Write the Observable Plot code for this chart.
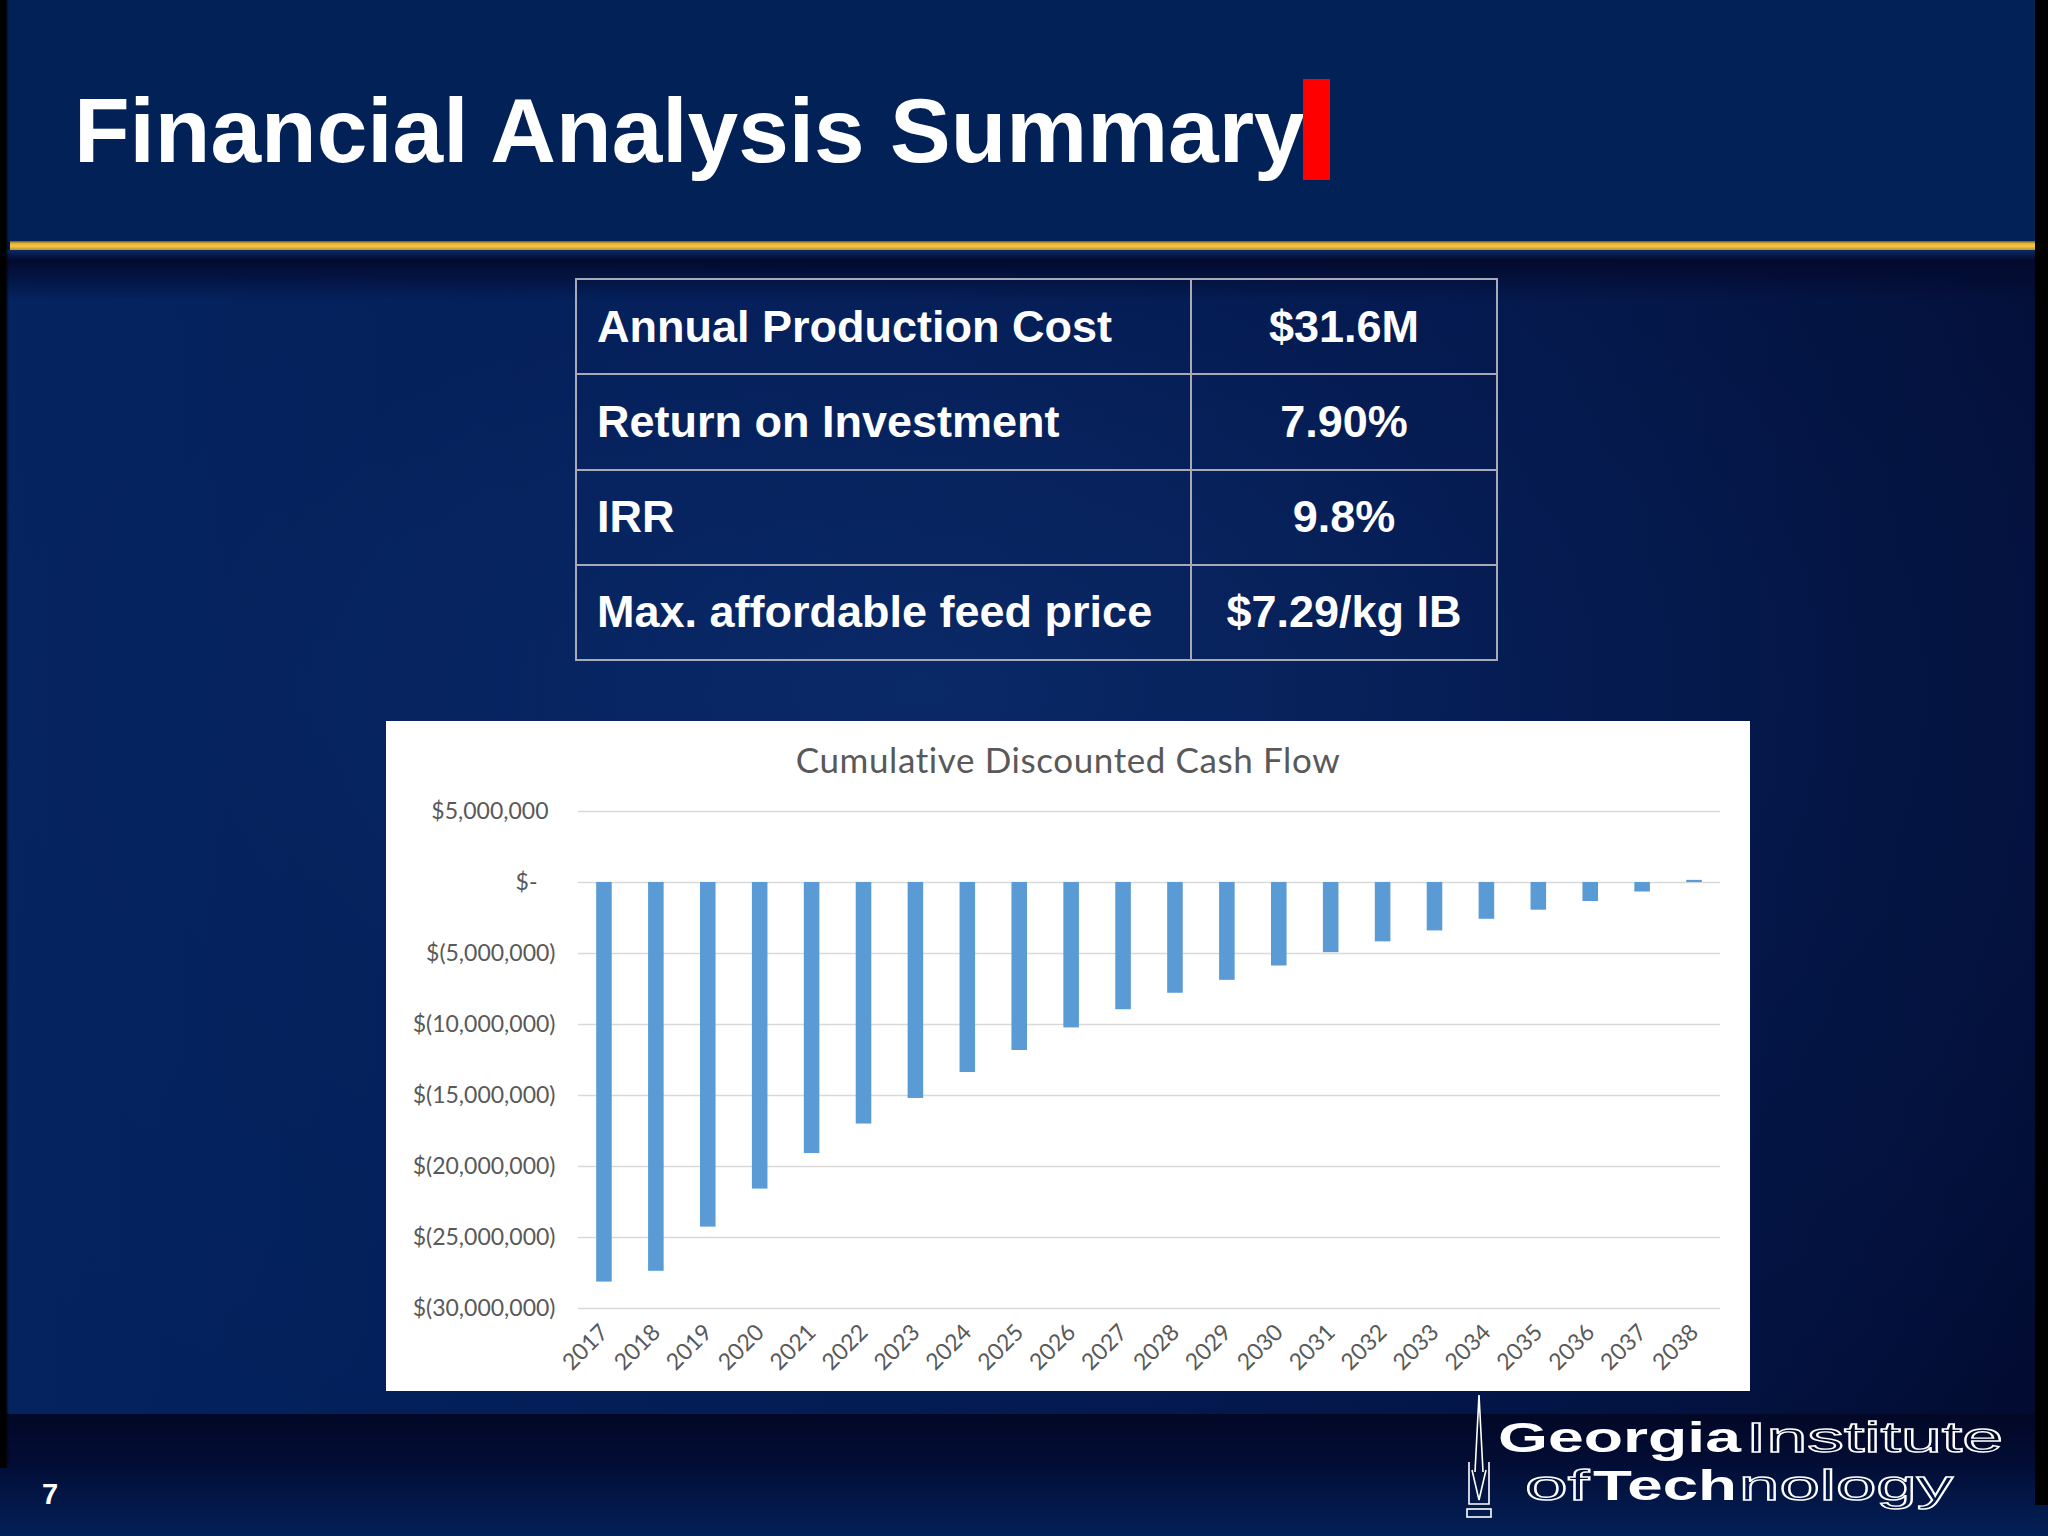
<!DOCTYPE html>
<html>
<head>
<meta charset="utf-8">
<script src="https://cdn.jsdelivr.net/npm/d3@7"></script>
<script src="https://cdn.jsdelivr.net/npm/@observablehq/plot@0.6"></script>
<style>
  html, body { margin: 0; padding: 0; }
  body {
    width: 2048px; height: 1536px; position: relative; overflow: hidden;
    background: #021848;
    font-family: "Liberation Sans", Arial, sans-serif;
  }
  .abs { position: absolute; }
  #bodybg {
    left: 0; top: 250px; width: 2048px; height: 1164px;
    background:
      radial-gradient(ellipse 1600px 950px at 45% 38%, rgba(12,46,110,0.75) 0%, rgba(8,36,96,0.45) 45%, rgba(8,36,96,0) 100%),
      linear-gradient(to right, #03235f 0%, #021c55 35%, #021445 70%, #020c32 100%);
  }
  #header { left: 0; top: 0; width: 2048px; height: 242px; background: #022157; }
  #shadow { left: 0; top: 250px; width: 2048px; height: 50px;
    background: linear-gradient(to bottom, #0a2a66 0px, #030a2e 10px, rgba(3,10,46,0) 50px); }
  #gold { left: 10px; top: 241px; width: 2025px; height: 9px;
    background: linear-gradient(to bottom, #7a5a1a 0%, #e8b83a 30%, #f2c448 60%, #b8902c 100%); }
  #footer { left: 0; top: 1414px; width: 2048px; height: 122px;
    background: linear-gradient(to bottom, #020826 0%, #020d35 40%, #032058 100%); }
  #leftstrip { left: 0; top: 0; width: 9px; height: 1468px; background: linear-gradient(to right, #000 60%, rgba(0,0,0,0)); }
  #rightstrip { left: 2035px; top: 0; width: 13px; height: 1505px; background: #000; }
  #title {
    left: 74px; top: 85px; font-size: 91px; line-height: 91px; font-weight: bold; color: #fff; white-space: nowrap;
  }
  #redbar { left: 1303px; top: 79px; width: 27px; height: 101px; background: #ff0000; }
  #summary {
    left: 575px; top: 278px; width: 923px; height: 383px;
    border-collapse: collapse; color: #fff; font-size: 45px; font-weight: bold;
  }
  #summary td { border: 2px solid #a8aab8; height: 93px; padding: 0; vertical-align: middle; white-space: nowrap; }
  #summary td.lab { width: 593px; padding-left: 20px; text-align: left; }
  #summary td.val { text-align: center; }
  #chartbox { left: 386px; top: 721px; width: 1364px; height: 670px; background: #fff; }
  #charttitle {
    height: 70px; line-height: 70px; padding-top: 3px; box-sizing: border-box;
    text-align: center; font-family: Lato, "Open Sans", sans-serif; font-size: 35px; letter-spacing: 0.6px;
    font-variant-ligatures: none; color: #595959;
  }
  #slidenum { left: 42px; top: 1480px; font-size: 29px; line-height: 29px; font-weight: bold; color: #fff; }
  #logo { left: 1450px; top: 1385px; }
</style>
</head>
<body>
<div id="bodybg" class="abs"></div>
<div id="header" class="abs"></div>
<div id="shadow" class="abs"></div>
<div id="footer" class="abs"></div>
<div id="gold" class="abs"></div>
<div id="leftstrip" class="abs"></div>
<div id="rightstrip" class="abs"></div>

<div id="title" class="abs"></div>
<div id="redbar" class="abs"></div>
<table id="summary" class="abs"><tbody></tbody></table>

<div id="chartbox" class="abs">
  <div id="charttitle"></div>
  <div id="chart"></div>
</div>

<div id="slidenum" class="abs">7</div>

<svg id="logo" class="abs" width="580" height="145" viewBox="1450 1385 580 145">
  <g fill="none" stroke="#fff" stroke-width="1.6">
    <path d="M1479,1395 L1475,1472 M1479,1395 L1483,1472"/>
    <path d="M1469,1462 L1469,1504 L1489,1504 L1489,1462"/>
    <path d="M1472,1470 L1479,1500 L1486,1470"/>
    <rect x="1467" y="1509" width="24" height="8"/>
  </g>
  <text font-family="Liberation Sans, Arial, sans-serif" font-size="42.5"><tspan x="1498" y="1452" fill="#fff" font-weight="bold" textLength="243" lengthAdjust="spacingAndGlyphs">Georgia</tspan><tspan x="1746" y="1452" fill="none" stroke="#fff" stroke-width="1.4" textLength="257" lengthAdjust="spacingAndGlyphs">Institute</tspan><tspan x="1525" y="1500" fill="none" stroke="#fff" stroke-width="1.4" textLength="64" lengthAdjust="spacingAndGlyphs">of</tspan><tspan x="1593" y="1500" fill="#fff" font-weight="bold" textLength="144" lengthAdjust="spacingAndGlyphs">Tech</tspan><tspan x="1739" y="1500" fill="none" stroke="#fff" stroke-width="1.4" textLength="214" lengthAdjust="spacingAndGlyphs">nology</tspan></text>
</svg>

<script>
// ---- Data ----
const slideTitle = "Financial Analysis Summary";
const chartTitle = "Cumulative Discounted Cash Flow";

const tableLabels = ["Annual Production Cost", "Return on Investment", "IRR", "Max. affordable feed price"];
const tableValues = ["$31.6M", "7.90%", "9.8%", "$7.29/kg IB"];

const years = ["2017", "2018", "2019", "2020", "2021", "2022", "2023", "2024", "2025", "2026", "2027",
               "2028", "2029", "2030", "2031", "2032", "2033", "2034", "2035", "2036", "2037", "2038"];
const cumulativeDCF = [-28140000, -27380000, -24270000, -21590000, -19090000, -17010000, -15210000,
                       -13380000, -11830000, -10240000, -8960000, -7800000, -6890000, -5880000,
                       -4940000, -4180000, -3410000, -2590000, -1950000, -1340000, -670000, 150000];
const yTicks = [5000000, 0, -5000000, -10000000, -15000000, -20000000, -25000000, -30000000];

// ---- Static text ----
document.getElementById("title").textContent = slideTitle;
document.getElementById("charttitle").textContent = chartTitle;
const tbody = document.querySelector("#summary tbody");
tableLabels.forEach((lab, i) => {
  const tr = document.createElement("tr");
  const a = document.createElement("td"); a.className = "lab"; a.textContent = lab;
  const b = document.createElement("td"); b.className = "val"; b.textContent = tableValues[i];
  tr.append(a, b); tbody.append(tr);
});

// ---- Chart ----
const data = years.map((year, i) => ({year, value: cumulativeDCF[i]}));
const num = d3.format(",");
const fmt = v => v === 0 ? "$-" : v < 0 ? "$(" + num(-v) + ")" : "$" + num(v);
const axisStyle = {tickSize: 0, tickFormat: fmt, fill: "#595959", fontSize: 23, label: null};

const chart = Plot.plot({
  width: 1364,
  height: 600,
  marginTop: 20,
  marginBottom: 83,
  marginLeft: 192,
  marginRight: 30,
  style: {background: "#ffffff", fontFamily: "Lato, 'Open Sans', sans-serif", fontSize: "23px", color: "#595959"},
  x: {domain: years, paddingInner: 0.7, paddingOuter: 0.35, round: false, label: null},
  y: {domain: [-30000000, 5000000], label: null},
  marks: [
    Plot.ruleY(yTicks, {stroke: "#d9d9d9", strokeWidth: 1.5}),
    Plot.barY(data, {x: "year", y: "value", fill: "#5b9bd5"}),
    Plot.axisY(yTicks.filter(v => v < 0), {...axisStyle, tickPadding: 23}),
    Plot.axisY(yTicks.filter(v => v === 0), {...axisStyle, tickPadding: 41}),
    Plot.axisY(yTicks.filter(v => v > 0), {...axisStyle, tickPadding: 30}),
    Plot.axisX({tickSize: 0, tickRotate: -45, tickPadding: 20, fill: "#595959", fontSize: 23, label: null})
  ]
});
document.getElementById("chart").append(chart);
</script>
</body>
</html>
